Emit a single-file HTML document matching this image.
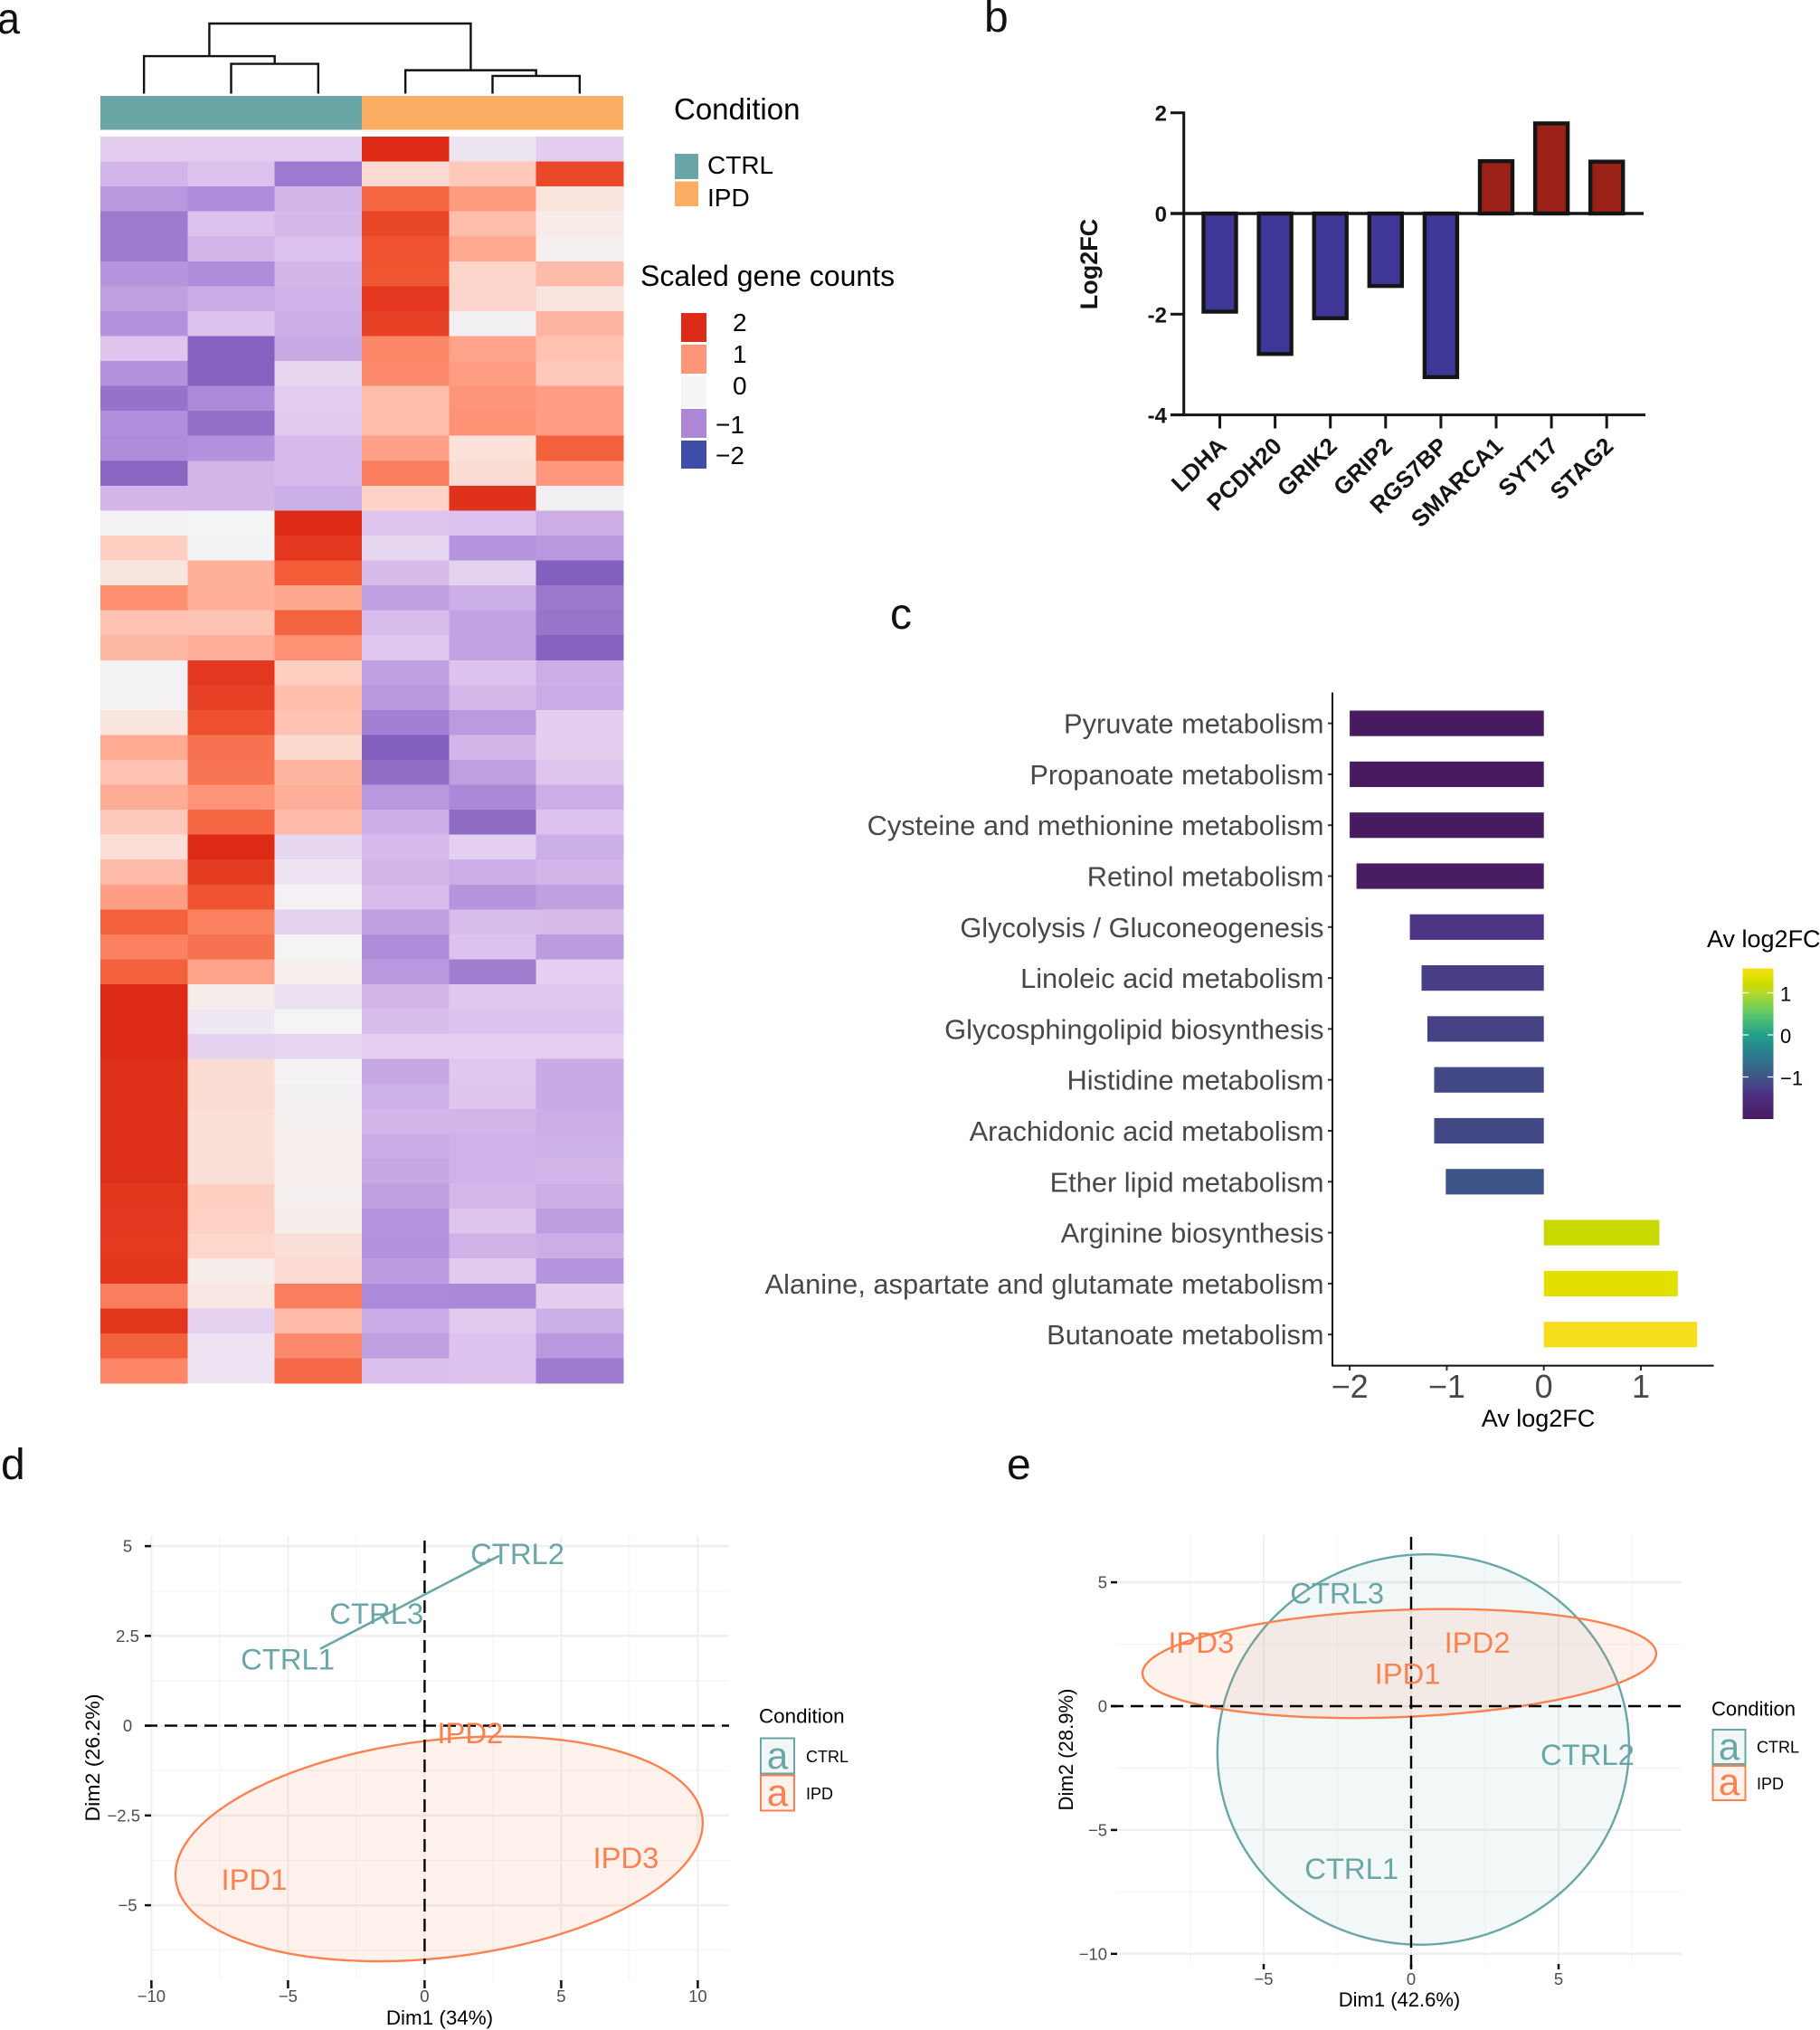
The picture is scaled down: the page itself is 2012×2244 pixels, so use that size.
<!DOCTYPE html>
<html lang="en">
<head>
<meta charset="utf-8">
<title>Gene expression figure panels a-e</title>
<style>
html,body{margin:0;padding:0;background:#fff;width:2012px;height:2244px;overflow:hidden}
svg{display:block}
text{font-family:"Liberation Sans",sans-serif}
</style>
</head>
<body>
<svg id="fig" xmlns="http://www.w3.org/2000/svg" width="2012" height="2244" viewBox="0 0 2012 2244">
  <rect x="0" y="0" width="2012" height="2244" fill="#fff"/>
  <defs>
    <linearGradient id="viridis-bar" x1="0" y1="1" x2="0" y2="0"></linearGradient>
  </defs>
  <text x="-3" y="37" font-size="48" textLength="25" lengthAdjust="spacingAndGlyphs" fill="#111">a</text>
  <text x="1088" y="35" font-size="48" fill="#111">b</text>
  <text x="984" y="695" font-size="48" fill="#111">c</text>
  <text x="1" y="1635" font-size="48" fill="#111">d</text>
  <text x="1113" y="1635" font-size="48" fill="#111">e</text>

  <g id="panel-a">
    <rect x="111" y="106" width="289" height="37.5" fill="#6aa6a6"/>
    <rect x="400" y="106" width="289" height="37.5" fill="#fbae63"/>
    <text x="745" y="132" font-size="33" fill="#000">Condition</text>
    <rect x="746" y="170" width="26" height="28" fill="#6aa6a6"/>
    <rect x="746" y="200.5" width="26" height="27.5" fill="#fbae63"/>
    <text x="782" y="192" font-size="28" fill="#000">CTRL</text>
    <text x="782" y="228" font-size="28" fill="#000">IPD</text>
    <text x="708" y="316" font-size="32" fill="#000">Scaled gene counts</text>
    <rect x="753" y="346" width="28" height="32" fill="#dc2b17"/>
    <rect x="753" y="381" width="28" height="32" fill="#ff9578"/>
    <rect x="753" y="416" width="28" height="34" fill="#f4f5f5"/>
    <rect x="753" y="452" width="28" height="32" fill="#ae86d6"/>
    <rect x="753" y="487" width="28" height="31" fill="#404da8"/>
    <text x="810" y="366" font-size="28" fill="#000">2</text>
    <text x="810" y="401" font-size="28" fill="#000">1</text>
    <text x="810" y="436" font-size="28" fill="#000">0</text>
    <text x="791" y="479" font-size="28" fill="#000">−1</text>
    <text x="791" y="513" font-size="28" fill="#000">−2</text>
  </g>
  <g id="panel-b"></g>
  <g id="panel-c">
    <text x="1700.5" y="1577" font-size="27" text-anchor="middle" fill="#000">Av log2FC</text>
    <text x="1887" y="1047" font-size="27" fill="#000">Av log2FC</text>
    <rect x="1926.5" y="1070.5" width="34" height="166.5" fill="url(#viridis-bar)"/>
  </g>
  <g id="panel-d">
    <text x="486" y="2238" font-size="22.4" text-anchor="middle" fill="#000">Dim1 (34%)</text>
    <text transform="translate(110 1943) rotate(-90)" font-size="22" text-anchor="middle" textLength="141" lengthAdjust="spacingAndGlyphs" fill="#000">Dim2 (26.2%)</text>
    <text x="839" y="1904.7" font-size="22.4" fill="#000">Condition</text>
    <rect x="841" y="1921.5" width="37" height="39" fill="#f1f6f6" stroke="#6aa6a6" stroke-width="2"/>
    <rect x="841" y="1962.5" width="37" height="39" fill="#fdf2ec" stroke="#fb8150" stroke-width="2"/>
    <text x="859.5" y="1955" font-size="42" text-anchor="middle" fill="#6aa6a6">a</text>
    <text x="859.5" y="1996" font-size="42" text-anchor="middle" fill="#fb8150">a</text>
    <text x="891" y="1948" font-size="18" fill="#000">CTRL</text>
    <text x="891" y="1989" font-size="18" fill="#000">IPD</text>
  </g>
  <g id="panel-e">
    <text x="1547" y="2218" font-size="22" text-anchor="middle" fill="#000">Dim1 (42.6%)</text>
    <text transform="translate(1186 1934) rotate(-90)" font-size="22" text-anchor="middle" textLength="135" lengthAdjust="spacingAndGlyphs" fill="#000">Dim2 (28.9%)</text>
    <text x="1892" y="1896.5" font-size="22" fill="#000">Condition</text>
    <rect x="1893.5" y="1912" width="36" height="38" fill="#f1f6f6" stroke="#6aa6a6" stroke-width="2"/>
    <rect x="1893.5" y="1952" width="36" height="38" fill="#fdf2ec" stroke="#fb8150" stroke-width="2"/>
    <text x="1911.5" y="1945" font-size="42" text-anchor="middle" fill="#6aa6a6">a</text>
    <text x="1911.5" y="1984" font-size="42" text-anchor="middle" fill="#fb8150">a</text>
    <text x="1942" y="1937.6" font-size="18" fill="#000">CTRL</text>
    <text x="1942" y="1978" font-size="18" fill="#000">IPD</text>
  </g>
</svg>

<script>
/* ---------- Panel a: heatmap data (z-scores) ---------- */
const heatSamples = ['C1','C2','C3','P1','P2','P3'];
const heatValues = [
[-.38,-.4,-.4,2,-.15,-.4],
[-.62,-.5,-1.22,.35,.55,1.68],
[-.9,-1,-.62,1.4,.95,.22],
[-1.2,-.5,-.6,1.7,.65,.13],
[-1.2,-.63,-.52,1.58,.83,.05],
[-.92,-1,-.62,1.55,.42,.67],
[-.82,-.72,-.65,1.85,.42,.22],
[-.95,-.5,-.7,1.75,-.05,.72],
[-.48,-1.48,-.73,1.12,.87,.62],
[-.95,-1.48,-.3,1.1,.93,.55],
[-1.3,-1.03,-.4,.65,1,.92],
[-.98,-1.33,-.42,.65,1.03,.92],
[-1,-.95,-.58,.9,.25,1.45],
[-1.45,-.62,-.58,1.2,.33,.97],
[-.62,-.62,-.68,.45,1.92,-.05],
[-.03,0,2,-.48,-.52,-.7],
[.5,-.02,1.85,-.3,-.93,-.9],
[.2,.77,1.47,-.57,-.35,-1.52],
[1.05,.78,.85,-.82,-.68,-1.25],
[.6,.6,1.42,-.55,-.8,-1.28],
[.7,.78,1.03,-.45,-.8,-1.48],
[-.03,1.85,.5,-.83,-.5,-.7],
[-.03,1.75,.65,-.9,-.6,-.72],
[.2,1.6,.6,-1.15,-.88,-.38],
[.82,1.3,.37,-1.52,-.62,-.38],
[.6,1.27,.73,-1.35,-.83,-.48],
[.8,1,.78,-.9,-1.05,-.7],
[.55,1.4,.67,-.7,-1.38,-.5],
[.3,2,-.3,-.58,-.37,-.68],
[.67,1.83,-.17,-.62,-.7,-.62],
[.92,1.57,-.03,-.55,-.92,-.82],
[1.45,1.17,-.35,-.82,-.55,-.57],
[1.17,1.3,0,-1,-.5,-.88],
[1.45,.87,.08,-.9,-1.17,-.37],
[2,.1,-.2,-.62,-.45,-.45],
[2,-.12,0,-.55,-.5,-.5],
[2,-.35,-.32,-.37,-.37,-.37],
[1.93,.33,-.03,-.75,-.45,-.73],
[1.93,.33,-.05,-.67,-.48,-.73],
[1.93,.27,.05,-.62,-.62,-.7],
[1.93,.27,.07,-.72,-.65,-.67],
[1.93,.28,.08,-.75,-.65,-.62],
[1.87,.5,.05,-.83,-.6,-.7],
[1.85,.48,.1,-.93,-.48,-.85],
[1.83,.4,.28,-.95,-.65,-.7],
[1.87,.1,.35,-.87,-.42,-.93],
[1.2,.18,1.2,-1.03,-1.07,-.38],
[1.87,-.35,.67,-.72,-.42,-.68],
[1.45,-.17,1.1,-.83,-.5,-.9],
[1.13,-.17,1.37,-.53,-.5,-1.2]
];
const dendroHeights = [1, 0.535, 0.425, 0.334, 0.252];

/* ---------- Panel b data ---------- */
const geneNames = ['LDHA','PCDH20','GRIK2','GRIP2','RGS7BP','SMARCA1','SYT17','STAG2'];
const geneLog2FC = [-1.95,-2.79,-2.08,-1.44,-3.25,1.04,1.79,1.03];
const geneTicks = [2,0,-2,-4];

/* ---------- Panel c data ---------- */
const pathwayNames = ['Pyruvate metabolism','Propanoate metabolism','Cysteine and methionine metabolism','Retinol metabolism','Glycolysis / Gluconeogenesis','Linoleic acid metabolism','Glycosphingolipid biosynthesis','Histidine metabolism','Arachidonic acid metabolism','Ether lipid metabolism','Arginine biosynthesis','Alanine, aspartate and glutamate metabolism','Butanoate metabolism'];
const pathwayValues = [-2,-2,-2,-1.93,-1.38,-1.26,-1.2,-1.13,-1.13,-1.01,1.19,1.38,1.58];
const pathwayTicks = [-2,-1,0,1];
const colorbarTicks = [1,0,-1];

/* ---------- Panel d data ---------- */
const dCtrlNames = ['CTRL1','CTRL2','CTRL3'];
const dCtrlX = [-5.01,3.4,-1.76];
const dCtrlY = [1.86,4.79,3.13];
const dIpdNames = ['IPD1','IPD2','IPD3'];
const dIpdX = [-6.24,1.67,7.37];
const dIpdY = [-4.28,-0.2,-3.68];
const dCtrlLineX = [-3.82,2.73];
const dCtrlLineY = [2.14,4.73];
const dIpdEllipse = [0.53,-3.43,9.65,3.13,0.23]; /* cx, cy, rx, ry, corr */
const dXTicks = [-10,-5,0,5,10];
const dYTicks = [5,2.5,0,-2.5,-5];
const dXMinor = [-7.5,-2.5,2.5,7.5];
const dYMinor = [3.75,1.25,-1.25,-3.75,-6.25];

/* ---------- Panel e data ---------- */
const eCtrlNames = ['CTRL1','CTRL2','CTRL3'];
const eCtrlX = [-2.02,5.98,-2.51];
const eCtrlY = [-6.56,-1.95,4.57];
const eIpdNames = ['IPD1','IPD2','IPD3'];
const eIpdX = [-0.12,2.24,-7.12];
const eIpdY = [1.31,2.57,2.57];
const eCtrlEllipse = [0.41,-1.75,6.98,7.88,0.015];
const eIpdEllipse = [-0.40,1.72,8.71,2.2,0.18];
const eXTicks = [-5,0,5];
const eYTicks = [5,0,-5,-10];
const eXMinor = [-7.5,-2.5,2.5,7.5];
const eYMinor = [2.5,-2.5,-7.5];

/* ---------- helpers ---------- */
const NS = 'http://www.w3.org/2000/svg';
function mk(parent, tag, attrs, txt){
  const e = document.createElementNS(NS, tag);
  for (const k in attrs) e.setAttribute(k, attrs[k]);
  if (txt !== undefined) e.textContent = txt;
  parent.appendChild(e);
  return e;
}
function hex(c){ return [parseInt(c.slice(1,3),16),parseInt(c.slice(3,5),16),parseInt(c.slice(5,7),16)]; }
function ramp(stops, v){
  if (v <= stops[0][0]) return stops[0][1];
  for (let i = 1; i < stops.length; i++){
    if (v <= stops[i][0]){
      const f = (v - stops[i-1][0]) / (stops[i][0] - stops[i-1][0]);
      const a = hex(stops[i-1][1]), b = hex(stops[i][1]);
      return 'rgb(' + a.map((x,j) => Math.round(x + (b[j]-x)*f)).join(',') + ')';
    }
  }
  return stops[stops.length-1][1];
}
function fmt(v){ return String(v).replace('-', '\u2212'); }

/* ---------- Panel a ---------- */
const heatStops = [[-2,'#404da8'],[-1.5,'#8660bf'],[-1,'#b08ddb'],[-0.5,'#dec2ee'],[0,'#f4f4f4'],[0.5,'#ffcfc2'],[1,'#ff9578'],[1.5,'#f25a35'],[2,'#dc2a15']];
const pa = document.getElementById('panel-a');
const heatLeft = 111, heatTop = 151, heatColW = 578 / heatSamples.length, heatRowH = 1378 / heatValues.length;
const heatX = i => heatLeft + i * heatColW;
const heatY = r => heatTop + r * heatRowH;
heatValues.forEach((row, r) => {
  row.forEach((v, c) => {
    const cell = mk(pa, 'rect', {x: heatX(c), y: heatY(r), width: heatColW + 0.5, height: heatRowH + 0.5, fill: ramp(heatStops, v), 'shape-rendering': 'crispEdges'});
    
    
  });
});
const leafX = i => heatX(i) + heatColW / 2;
const dendroY = h => 103.5 - h * 77.5;
function link(xl, yl, xr, yr, h, name){
  const d = 'M' + xl + ' ' + yl + 'V' + dendroY(h) + 'H' + xr + 'V' + yr;
  const p = mk(pa, 'path', {d: d, fill: 'none', stroke: '#111', 'stroke-width': 2.4});
  
  
}
const y0 = dendroY(0);
const xL2 = (leafX(1) + leafX(2)) / 2, xL1 = (leafX(0) + xL2) / 2;
const xR2 = (leafX(4) + leafX(5)) / 2, xR1 = (leafX(3) + xR2) / 2;
link(leafX(1), y0, leafX(2), y0, dendroHeights[2], 'dendrogram-ctrl-inner');
link(leafX(0), y0, xL2, dendroY(dendroHeights[2]), dendroHeights[1], 'dendrogram-ctrl-outer');
link(leafX(4), y0, leafX(5), y0, dendroHeights[4], 'dendrogram-ipd-inner');
link(leafX(3), y0, xR2, dendroY(dendroHeights[4]), dendroHeights[3], 'dendrogram-ipd-outer');
link(xL1, dendroY(dendroHeights[1]), xR1, dendroY(dendroHeights[3]), dendroHeights[0], 'dendrogram-root');

/* ---------- Panel b ---------- */
const pb = document.getElementById('panel-b');
const bY = v => 236 - v * 55.65;
const bX = i => 1348.5 + i * 61.1;
const blue = '#3f3798', red = '#9b2018', ink = '#151515';
geneNames.forEach((g, i) => {
  const v = geneLog2FC[i];
  const bar = mk(pb, 'rect', {x: bX(i) - 18, y: Math.min(bY(v), bY(0)), width: 36, height: Math.abs(bY(v) - bY(0)), fill: v < 0 ? blue : red, stroke: ink, 'stroke-width': 4.4});
  
  
  const t = mk(pb, 'line', {x1: bX(i), x2: bX(i), y1: bY(-4), y2: bY(-4) + 15, stroke: ink, 'stroke-width': 3});
  
  
  const lab = mk(pb, 'text', {transform: 'translate(' + (bX(i) + 9) + ' ' + 495 + ') rotate(-44)', 'font-size': 26, 'font-weight': 'bold', 'text-anchor': 'end', fill: ink}, g);
  
  
});
const bzero = mk(pb, 'line', {x1: 1294, x2: 1817, y1: bY(0), y2: bY(0), stroke: ink, 'stroke-width': 3.4});


const baxisY = mk(pb, 'line', {x1: 1308.7, x2: 1308.7, y1: bY(2) - 1.5, y2: bY(-4) + 1.5, stroke: ink, 'stroke-width': 3});


const baxisX = mk(pb, 'line', {x1: 1294, x2: 1819, y1: bY(-4), y2: bY(-4), stroke: ink, 'stroke-width': 3});


geneTicks.forEach(v => {
  const t = mk(pb, 'line', {x1: 1294, x2: 1308, y1: bY(v), y2: bY(v), stroke: ink, 'stroke-width': 3});
  
  
  const l = mk(pb, 'text', {x: 1290, y: bY(v) + 9, 'font-size': 24, 'font-weight': 'bold', 'text-anchor': 'end', fill: ink}, String(v));
  
  
});
const bTitle = mk(pb, 'text', {transform: 'translate(1213 292) rotate(-90)', 'font-size': 27, 'font-weight': 'bold', 'text-anchor': 'middle', fill: ink}, 'Log2FC');



/* ---------- Panel c ---------- */
const pc = document.getElementById('panel-c');
const viridisStops = [[-2,'#481a5f'],[-1.4,'#4d3184'],[-1,'#3d5586'],[-0.5,'#2c7a8c'],[0,'#22a08a'],[0.5,'#5cc86a'],[1,'#b5da2a'],[1.2,'#c9d900'],[1.38,'#e3e000'],[1.58,'#f6de1e']];
const cX = v => 1706.7 + v * 107.3;
const cY = i => 799.6 + i * 56.3;
pathwayNames.forEach((n, i) => {
  const v = pathwayValues[i];
  const bar = mk(pc, 'rect', {x: Math.min(cX(v), cX(0)), y: cY(i) - 14.1, width: Math.abs(cX(v) - cX(0)), height: 28.2, fill: ramp(viridisStops, v)});
  
  
  const t = mk(pc, 'line', {x1: 1468, x2: 1473, y1: cY(i), y2: cY(i), stroke: '#333', 'stroke-width': 2});
  
  
  const l = mk(pc, 'text', {x: 1463.6, y: cY(i) + 11, 'font-size': 30.8, 'text-anchor': 'end', fill: '#484848'}, n);
  
  
});
pathwayTicks.forEach(v => {
  const t = mk(pc, 'line', {x1: cX(v), x2: cX(v), y1: 1509, y2: 1515, stroke: '#333', 'stroke-width': 2});
  
  
  const l = mk(pc, 'text', {x: cX(v), y: 1545, 'font-size': 36, 'text-anchor': 'middle', fill: '#484848'}, fmt(v));
  
  
});
const cay = mk(pc, 'line', {x1: 1473, x2: 1473, y1: 765.5, y2: 1510.5, stroke: '#111', 'stroke-width': 2});


const cax = mk(pc, 'line', {x1: 1472, x2: 1894.5, y1: 1509.6, y2: 1509.6, stroke: '#111', 'stroke-width': 2});


const grad = document.getElementById('viridis-bar');
viridisStops.forEach(s => {
  const st = mk(grad, 'stop', {offset: (s[0] + 2) / 3.58, 'stop-color': s[1]});
  
  
});
const cbY = v => 1144 - v * 46.5;
colorbarTicks.forEach(v => {
  const a = mk(pc, 'line', {x1: 1926.5, x2: 1933, y1: cbY(v), y2: cbY(v), stroke: '#fff', 'stroke-width': 1.2});
  
  
  const b = mk(pc, 'line', {x1: 1954, x2: 1960.5, y1: cbY(v), y2: cbY(v), stroke: '#fff', 'stroke-width': 1.2});
  
  
  const l = mk(pc, 'text', {x: 1968, y: cbY(v) + 9, 'font-size': 22, fill: '#000'}, fmt(v));
  
  
});

/* ---------- PCA panels ---------- */
const teal = '#6aa6a6', orange = '#fb8150';
function ellipsePath(par, sx, sy){
  const cx = par[0], cy = par[1], rx = par[2], ry = par[3], rho = par[4];
  let d = '';
  for (let k = 0; k <= 180; k++){
    const t = k / 180 * 2 * Math.PI;
    const x = cx + rx * Math.cos(t);
    const y = cy + ry * (rho * Math.cos(t) + Math.sqrt(1 - rho * rho) * Math.sin(t));
    d += (k ? 'L' : 'M') + sx(x).toFixed(2) + ' ' + sy(y).toFixed(2);
  }
  return d + 'Z';
}
function drawGrid(g, o){
  o.xMinor.forEach(v => {
    const l = mk(g, 'line', {x1: o.sx(v), x2: o.sx(v), y1: o.top, y2: o.bottom, stroke: '#f4f4f4', 'stroke-width': 1});
    
    
  });
  o.yMinor.forEach(v => {
    const l = mk(g, 'line', {x1: o.left, x2: o.right, y1: o.sy(v), y2: o.sy(v), stroke: '#f4f4f4', 'stroke-width': 1.2});
    
    
  });
  o.xTicks.forEach(v => {
    const l = mk(g, 'line', {x1: o.sx(v), x2: o.sx(v), y1: o.top, y2: o.bottom, stroke: '#efefef', 'stroke-width': 2});
    
    
    const t = mk(g, 'line', {x1: o.sx(v), x2: o.sx(v), y1: o.bottom, y2: o.bottom + o.tickLen, stroke: '#111', 'stroke-width': 2.5});
    
    
    const s = mk(g, 'text', {x: o.sx(v), y: o.xLabelY, 'font-size': 18.5, 'text-anchor': 'middle', fill: '#4d4d4d'}, fmt(v));
    
    
  });
  o.yTicks.forEach(v => {
    const l = mk(g, 'line', {x1: o.left, x2: o.right, y1: o.sy(v), y2: o.sy(v), stroke: '#efefef', 'stroke-width': 2.5});
    
    
    const t = mk(g, 'line', {x1: o.left - 7, x2: o.left, y1: o.sy(v), y2: o.sy(v), stroke: '#111', 'stroke-width': 2.5});
    
    
    const txt = fmt(v);
    const wide = txt.length >= 4;
    const s = mk(g, 'text', {x: o.yLabelCentre ? (wide ? o.yLabelCentre + 14 : o.yLabelCentre) : o.yLabelRight, y: o.sy(v) + 6.5, 'font-size': 18.5, 'text-anchor': (o.yLabelCentre && !wide) ? 'middle' : 'end', fill: '#4d4d4d'}, txt);
    
    
  });
}
function drawDashes(g, o){
  const h = mk(g, 'line', {x1: o.left - 7, x2: o.right, y1: o.sy(0), y2: o.sy(0), stroke: '#000', 'stroke-width': 2.4, 'stroke-dasharray': '14 8'});
  
  
  const v = mk(g, 'line', {x1: o.sx(0), x2: o.sx(0), y1: o.dashTop, y2: o.dashBottom, stroke: '#000', 'stroke-width': 2.4, 'stroke-dasharray': '14 8'});
  
  
}
function drawLabels(g, names, xs, ys, sx, sy, color){
  names.forEach((n, i) => {
    const l = mk(g, 'text', {x: sx(xs[i]), y: sy(ys[i]) + 11.5, 'font-size': 32.8, 'text-anchor': 'middle', fill: color}, n);
    
    
  });
}

/* Panel d */
const pd = document.getElementById('panel-d');
const dX = v => 469.4 + v * 30.2;
const dY = v => 1907.6 - v * 39.7;
const dOpt = {sx: dX, sy: dY, left: 167, right: 806, top: 1698, bottom: 2189, tickLen: 9, xLabelY: 2213, yLabelCentre: 141, xTicks: dXTicks, yTicks: dYTicks, xMinor: dXMinor, yMinor: dYMinor, dashTop: 1703, dashBottom: 2171};
drawGrid(pd, dOpt);
const dEll = mk(pd, 'path', {d: ellipsePath(dIpdEllipse, dX, dY), fill: orange, 'fill-opacity': 0.1, stroke: orange, 'stroke-width': 2.4});


drawDashes(pd, dOpt);
const dLine = mk(pd, 'line', {x1: dX(dCtrlLineX[0]), y1: dY(dCtrlLineY[0]), x2: dX(dCtrlLineX[1]), y2: dY(dCtrlLineY[1]), stroke: teal, 'stroke-width': 2.6});


drawLabels(pd, dCtrlNames, dCtrlX, dCtrlY, dX, dY, teal);
drawLabels(pd, dIpdNames, dIpdX, dIpdY, dX, dY, orange);

/* Panel e */
const pe = document.getElementById('panel-e');
const eX = v => 1560 + v * 32.6;
const eY = v => 1886 - v * 27.38;
const eOpt = {sx: eX, sy: eY, left: 1235, right: 1859, top: 1697, bottom: 2171, tickLen: 6, xLabelY: 2194, yLabelRight: 1224, xTicks: eXTicks, yTicks: eYTicks, xMinor: eXMinor, yMinor: eYMinor, dashTop: 1699, dashBottom: 2176};
drawGrid(pe, eOpt);
const eEllC = mk(pe, 'path', {d: ellipsePath(eCtrlEllipse, eX, eY), fill: teal, 'fill-opacity': 0.09, stroke: teal, 'stroke-width': 2.4});


const eEllI = mk(pe, 'path', {d: ellipsePath(eIpdEllipse, eX, eY), fill: orange, 'fill-opacity': 0.1, stroke: orange, 'stroke-width': 2.4});


drawDashes(pe, eOpt);
drawLabels(pe, eCtrlNames, eCtrlX, eCtrlY, eX, eY, teal);
drawLabels(pe, eIpdNames, eIpdX, eIpdY, eX, eY, orange);
</script>
</body>
</html>
